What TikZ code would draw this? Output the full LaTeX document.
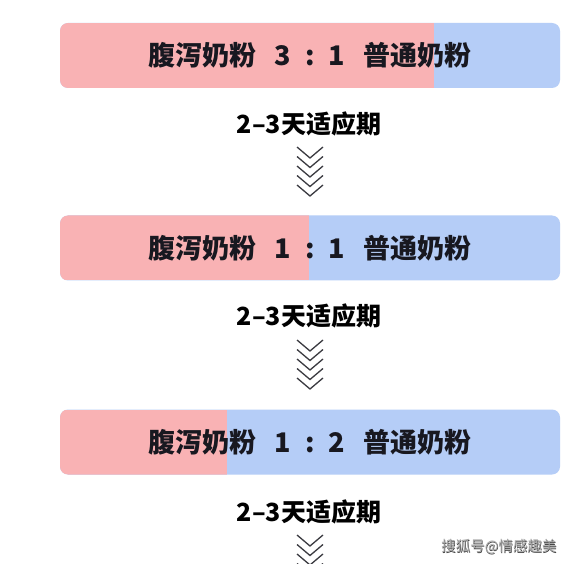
\documentclass[tikz,border=0pt]{standalone}
\usepackage{fontspec}
\newfontfamily\cjk{Noto Sans CJK SC}
\usetikzlibrary{positioning}
\definecolor{milkred}{RGB}{249,178,180}
\definecolor{milkblue}{RGB}{181,205,247}
\definecolor{inkdark}{RGB}{24,24,32}

\begin{document}
\begin{tikzpicture}[x=1pt,y=-1pt,
	bar/.style={rounded corners=8pt,minimum width=500pt,minimum height=65pt,inner sep=0pt,fill=milkblue,
		font=\cjk\bfseries\fontsize{27pt}{27pt}\selectfont,text=inkdark},
	stage/.style={font=\cjk\bfseries\fontsize{25pt}{25pt}\selectfont,text=black,inner sep=0pt},
	chevron/.style={draw=inkdark!85,line width=1.3pt},
	wmark/.style={font=\cjk\fontsize{14.5pt}{14.5pt}\selectfont,inner sep=0pt}]
	\useasboundingbox[fill=white] (0,0) rectangle (576,564);

	% three mixing stages
	\node (bar1) [bar, path picture={\fill[milkred,sharp corners] (path picture bounding box.north west) rectangle ([xshift=374pt]path picture bounding box.south west);}]
		at (310,55.5) {腹泻奶粉\hspace{18pt}3\hspace{14pt}:\hspace{14pt}1\hspace{18pt}普通奶粉};
	\node (bar2) [bar, path picture={\fill[milkred,sharp corners] (path picture bounding box.north west) rectangle ([xshift=249pt]path picture bounding box.south west);}]
		at (310,248) {腹泻奶粉\hspace{18pt}1\hspace{14pt}:\hspace{14pt}1\hspace{18pt}普通奶粉};
	\node (bar3) [bar, path picture={\fill[milkred,sharp corners] (path picture bounding box.north west) rectangle ([xshift=167pt]path picture bounding box.south west);}]
		at (310,442) {腹泻奶粉\hspace{18pt}1\hspace{14pt}:\hspace{14pt}2\hspace{18pt}普通奶粉};

	\node (stage1) [stage] at (309,124) {2–3天适应期};
	\node (stage2) [stage] at (309,316) {2–3天适应期};
	\node (stage3) [stage] at (309,512) {2–3天适应期};

	% chevrons
	\foreach \t in {147,156.5,166,175.5,185,340,349.5,359,368.5,378,535,544.5,554,563.5}
		\draw[chevron] (297,\t) -- (310,{\t+11}) -- (323,\t);

	\node (markshadow) [wmark,text=black!75] at (499.6,547.6) {搜狐号@情感趣美};
	\node (wm) [wmark,text=black!35] at (499,547) {搜狐号@情感趣美};
\end{tikzpicture}
\end{document}
